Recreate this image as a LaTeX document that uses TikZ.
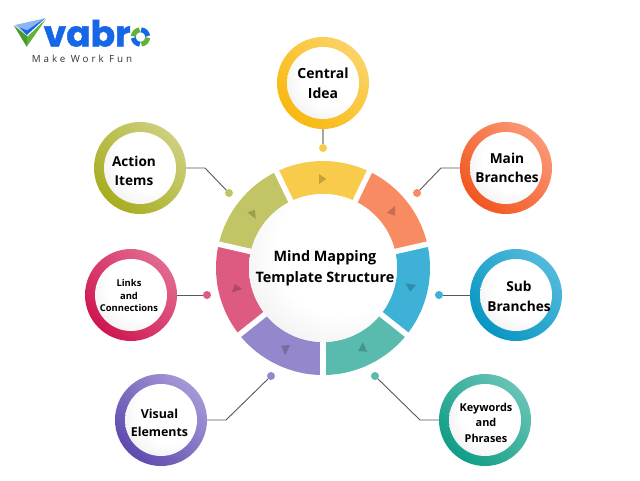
\documentclass[tikz,border=0pt]{standalone}
\usepackage{fontspec}
\setmainfont{Open Sans}
\newfontfamily\logofont[BoldFeatures={FakeBold=1.2}]{Poppins}
\newfontfamily\tagfont[LetterSpace=30]{Open Sans}
\definecolor{segY}{HTML}{F9CB4B}
\definecolor{segO}{HTML}{F88B62}
\definecolor{segB}{HTML}{3EB1D6}
\definecolor{segT}{HTML}{58BBAD}
\definecolor{segP}{HTML}{9587CB}
\definecolor{segR}{HTML}{DD5A80}
\definecolor{segG}{HTML}{C2C566}
\definecolor{darkY}{HTML}{F8B80E}
\definecolor{darkO}{HTML}{F2561F}
\definecolor{darkB}{HTML}{0796C2}
\definecolor{darkT}{HTML}{0F9E86}
\definecolor{darkP}{HTML}{5F4AAE}
\definecolor{darkR}{HTML}{CE1650}
\definecolor{darkG}{HTML}{A7AD1E}
\definecolor{lightY}{HTML}{FBD365}
\definecolor{lightO}{HTML}{FB9875}
\definecolor{lightB}{HTML}{52BADC}
\definecolor{lightT}{HTML}{68C3B6}
\definecolor{lightP}{HTML}{A698D6}
\definecolor{lightR}{HTML}{E26A8F}
\definecolor{lightG}{HTML}{CDD07D}
\definecolor{logoB}{HTML}{1666E8}
\definecolor{logoLB}{HTML}{8FB4F2}
\definecolor{logoG}{HTML}{62B23A}
\definecolor{logoDG}{HTML}{4A9A2E}
\definecolor{diskrim}{HTML}{D4D4D8}
\pgfdeclareradialshading{diskshade}{\pgfpoint{8bp}{8bp}}{%
  color(0bp)=(white);color(22bp)=(white);color(40bp)=(diskrim!45!white);color(60bp)=(diskrim);color(100bp)=(diskrim)}
\tikzset{
  ringnode/.style={circle,inner sep=0pt,outer sep=0pt,minimum size=92pt},
  disknode/.style={circle,inner sep=0pt,outer sep=0pt,minimum size=72pt,shading=diskshade},
  bigdisk/.style={disknode,minimum size=148pt},
  lab/.style={font=\fontsize{13.7}{19.5}\selectfont\bfseries,align=center,inner sep=0pt,text=black},
  smalllab/.style={font=\fontsize{9.6}{15.5}\selectfont\bfseries,align=center,inner sep=0pt,text=black},
  dotnode/.style={circle,inner sep=0pt,outer sep=0pt,minimum size=8pt},
  conn/.style={draw=black!65,line width=.9pt},
  tri/.style={fill=black,fill opacity=.2}
}
\newcommand{\bubble}[4]{% name, x, y, colour key
  \node[ringnode,bottom color=dark#4,top color=light#4,shading angle=-45] (#1) at (#2,#3) {};
  \node[disknode] (#1in) at (#2,#3) {};
}
\newcommand{\segm}[3]{% start, end, colour
  \fill[#3] (#1:107pt) arc[start angle=#1,end angle=#2,radius=107pt] -- (#2:74pt) arc[start angle=#2,end angle=#1,radius=74pt] -- cycle;
}
\begin{document}
\begin{tikzpicture}[x=1pt,y=-1pt]
\useasboundingbox (0,0) rectangle (640,480);
\fill[white] (0,0) rectangle (640,480);
% ring segments
\coordinate (c) at (323,268);
\begin{scope}[shift={(c)},x=1pt,y=1pt]
  \segm{64.29}{115.71}{segY}
  \segm{12.86}{64.29}{segO}
  \segm{-38.57}{12.86}{segB}
  \segm{-90}{-38.57}{segT}
  \segm{-141.43}{-90}{segP}
  \segm{167.14}{218.57}{segR}
  \segm{115.71}{167.14}{segG}
  \foreach \a in {-90,-38.57,12.86,64.29,115.71,167.14,218.57}
    \draw[white,line width=5.5pt] (0,0) -- (\a:110pt);
\end{scope}
% triangles
\fill[tri] (319,174) -- (326.3,179) -- (319,184) -- cycle;
\fill[tri] (386.7,212.7) -- (395,206) -- (395,215.7) -- cycle;
\fill[tri] (405.7,283.3) -- (416,285) -- (410,291.7) -- cycle;
\fill[tri] (358.3,351) -- (367.3,351.7) -- (362.7,342.3) -- cycle;
\fill[tri] (281,345.7) -- (290,345) -- (285.3,355) -- cycle;
\fill[tri] (231.7,292.7) -- (242,289) -- (235,284) -- cycle;
\fill[tri] (247.3,212.3) -- (255,210) -- (255.7,219) -- cycle;
% hub
\node[bigdisk] (hub) at (c) {};
\node[font=\fontsize{14.4}{21}\selectfont\bfseries,align=center,inner sep=0pt,text=black] (hubtext) at (325,268.5) {Mind Mapping\\Template Structure};
% dots
\node[dotnode,fill=segY] (dY) at (323,148) {};
\node[dotnode,fill=segO] (dO) at (417,193) {};
\node[dotnode,fill=segB] (dB) at (439,295) {};
\node[dotnode,fill=segT] (dT) at (375,376) {};
\node[dotnode,fill=segP] (dP) at (271,376) {};
\node[dotnode,fill=segR] (dR) at (207,295) {};
\node[dotnode,fill=segG] (dG) at (229,193) {};
% bubbles
\bubble{central}{323}{83}{Y}
\bubble{mainb}{506}{168}{O}
\bubble{subb}{516}{295}{B}
\bubble{keyw}{485}{420}{T}
\bubble{visual}{161}{420}{P}
\bubble{links}{131}{295}{R}
\bubble{action}{140}{168}{G}
% bend points
\coordinate (bO) at (441,168);
\coordinate (bT) at (420,420);
\coordinate (bP) at (226,420);
\coordinate (bG) at (205,168);
% connectors
\draw[draw=black!35,line width=1.3pt] (central) -- (dY);
\draw[conn] (mainb) -- (bO) -- (dO);
\draw[conn] (subb) -- (dB);
\draw[conn] (keyw) -- (bT) -- (dT);
\draw[conn] (visual) -- (bP) -- (dP);
\draw[conn] (links) -- (dR);
\draw[conn] (action) -- (bG) -- (dG);
% labels
\node[lab,font=\fontsize{14}{19.5}\selectfont\bfseries] (tcentral) at (323,83) {Central\\Idea};
\node[lab] (tmain) at (507,168) {Main\\Branches};
\node[lab] (tsub) at (519,296.5) {Sub\\Branches};
\node[smalllab,font=\fontsize{10.9}{15.5}\selectfont\bfseries] (tkeyw) at (486,422.5) {Keywords\\and\\Phrases};
\node[lab,font=\fontsize{12.4}{18}\selectfont\bfseries] (tvisual) at (159.5,423) {Visual\\Elements};
\node[smalllab,font=\fontsize{9.4}{12.8}\selectfont\bfseries] (tlinks) at (129,295.5) {Links\\and\\Connections};
\node[lab,font=\fontsize{13.6}{19}\selectfont\bfseries] (taction) at (134,170.5) {Action\\Items};
% logo
\fill[logoLB] (15,25) -- (45,18.3) -- (26.7,35) -- cycle;
\fill[logoB] (20,27.5) -- (27,30.5) -- (45,18.3) -- (26.7,35) -- cycle;
\fill[logoDG] (13.7,25.3) -- (26.7,46.7) -- (28,36.7) -- cycle;
\fill[logoG] (26.7,46.7) -- (46,19) -- (27.5,36.5) -- cycle;
\node[font=\logofont\fontsize{36}{36}\selectfont\bfseries,text=logoB,anchor=base west,inner sep=0pt] (logotext) at (43.5,46.5) {vabr};
\coordinate (oc) at (140.5,37);
\begin{scope}[shift={(oc)},x=1pt,y=1pt,line width=5pt]
  \draw[logoG] (97:7.2pt) arc[start angle=97,end angle=175,radius=7.2pt];
  \draw[logoB] (7:7.2pt) arc[start angle=7,end angle=85,radius=7.2pt];
  \draw[logoG] (-83:7.2pt) arc[start angle=-83,end angle=-5,radius=7.2pt];
  \draw[logoB] (-173:7.2pt) arc[start angle=-173,end angle=-95,radius=7.2pt];
\end{scope}
\node[font=\tagfont\fontsize{9.8}{11}\selectfont,text=black!80,inner sep=0pt] (tagline) at (82,59) {Make Work Fun};
\end{tikzpicture}
\end{document}
